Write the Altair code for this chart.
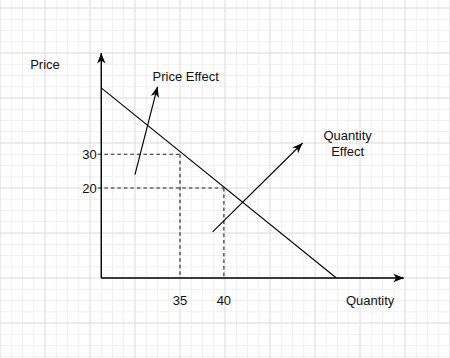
import math
import altair as alt
import pandas as pd

# Diagram coordinates (grid units; origin at the axes' corner)
X_MIN, X_MAX = -9, 31
Y_MIN, Y_MAX = -80 / 11.25, 278 / 11.25

# Axes (start -> arrow tip)
axis_x = [0, 0]
axis_y = [0, 0]
axis_x2 = [26.9, 0]
axis_y2 = [0, 20.0]

# Demand line
demand_x = [0, 20.9]
demand_y = [16.9, 0]

# Price / quantity levels with their positions
price_labels = ["30", "20"]
price_pos = [11.0, 8.0]
qty_labels = ["35", "40"]
qty_pos = [7.0, 10.9]

# Effect arrows (start -> tip)
eff_x = [3.0, 9.9]
eff_y = [9.2, 4.1]
eff_x2 = [5.0, 17.9]
eff_y2 = [17.0, 12.0]

# Text labels
label_text = ["Price", "Price Effect", "Quantity", "Effect", "Quantity"]
label_x = [-5.0, 7.5, 21.9, 21.9, 23.9]
label_y = [18.9, 17.9, 12.6, 11.2, -2.0]

W, H = 450, 358
xs = alt.Scale(domain=[X_MIN, X_MAX], nice=False, zero=False)
ys = alt.Scale(domain=[Y_MIN, Y_MAX], nice=False, zero=False)
X = lambda f: alt.X(f, type="quantitative", scale=xs, axis=None)
Y = lambda f: alt.Y(f, type="quantitative", scale=ys, axis=None)

# grid
vx = list(range(-9, 32))
hy = list(range(-7, 25))
vgrid = pd.DataFrame({"v": vx, "major": [(v + 9) % 4 == 0 for v in vx]})
hgrid = pd.DataFrame({"v": hy, "major": [v % 4 == 0 for v in hy]})

minor_v = alt.Chart(vgrid[~vgrid.major]).mark_rule(color="#f0f0f0", strokeWidth=1).encode(x=X("v"))
minor_h = alt.Chart(hgrid[~hgrid.major]).mark_rule(color="#f0f0f0", strokeWidth=1).encode(y=Y("v"))
major_v = alt.Chart(vgrid[vgrid.major]).mark_rule(color="#dadada", strokeWidth=1).encode(x=X("v"))
major_h = alt.Chart(hgrid[hgrid.major]).mark_rule(color="#dadada", strokeWidth=1).encode(y=Y("v"))

axes_df = pd.DataFrame({"x": axis_x, "y": axis_y, "x2": axis_x2, "y2": axis_y2})
axes = alt.Chart(axes_df).mark_rule(color="black", strokeWidth=1.4).encode(
    x=X("x"), y=Y("y"), x2="x2", y2="y2")

dem_df = pd.DataFrame({"x": demand_x[:1], "y": demand_y[:1], "x2": demand_x[1:], "y2": demand_y[1:]})
demand = alt.Chart(dem_df).mark_rule(color="black", strokeWidth=1.1).encode(
    x=X("x"), y=Y("y"), x2="x2", y2="y2")

dash_rows = []
for p, q in zip(price_pos, qty_pos):
    dash_rows.append({"x": -0.3, "y": p, "x2": q, "y2": p})
    dash_rows.append({"x": q, "y": p, "x2": q, "y2": 0})
dashes = alt.Chart(pd.DataFrame(dash_rows)).mark_rule(
    color="#222222", strokeWidth=1.1, strokeDash=[3.5, 3]).encode(
    x=X("x"), y=Y("y"), x2="x2", y2="y2")

eff_df = pd.DataFrame({"x": eff_x, "y": eff_y, "x2": eff_x2, "y2": eff_y2})
effects = alt.Chart(eff_df).mark_rule(color="black", strokeWidth=1.1).encode(
    x=X("x"), y=Y("y"), x2="x2", y2="y2")

# arrowheads at the tips of axes and effect arrows
tips = []
for x0, y0, x1, y1 in list(zip(axis_x, axis_y, axis_x2, axis_y2)) + list(zip(eff_x, eff_y, eff_x2, eff_y2)):
    ang = math.degrees(math.atan2(x1 - x0, y1 - y0)) % 360
    tips.append({"x": x1, "y": y1, "ang": ang})
heads = alt.Chart(pd.DataFrame(tips)).mark_point(
    shape="M0,0 L0.8,2 L0,1.45 L-0.8,2 Z", filled=True, color="black",
    opacity=1, size=110, strokeWidth=0).encode(
    x=X("x"), y=Y("y"), angle=alt.Angle("ang:Q", scale=None))

font = "Liberation Sans"
lab_df = pd.DataFrame({"t": label_text, "x": label_x, "y": label_y})
labels = alt.Chart(lab_df).mark_text(font=font, fontSize=13, color="#111111",
                                     align="center", baseline="middle").encode(
    x=X("x"), y=Y("y"), text="t:N")

pl_df = pd.DataFrame({"t": price_labels, "y": price_pos})
plabels = alt.Chart(pl_df).mark_text(font=font, fontSize=13, color="#111111",
                                     align="right", baseline="middle", dy=1).encode(
    x=alt.value((-0.4 - X_MIN) * 11.25), y=Y("y"), text="t:N")

ql_df = pd.DataFrame({"t": qty_labels, "x": qty_pos})
qlabels = alt.Chart(ql_df).mark_text(font=font, fontSize=13, color="#111111",
                                     align="center", baseline="middle").encode(
    x=X("x"), y=alt.value((Y_MAX + 2.0) * 11.25), text="t:N")

chart = alt.layer(minor_v, minor_h, major_v, major_h, dashes, demand, effects, axes,
                  heads, labels, plabels, qlabels).properties(
    width=W, height=H, padding=0, autosize=alt.AutoSizeParams(type="none"),
    background="white").configure_view(stroke=None)

chart.save("out.html", embed_options={"renderer": "svg", "actions": False})
